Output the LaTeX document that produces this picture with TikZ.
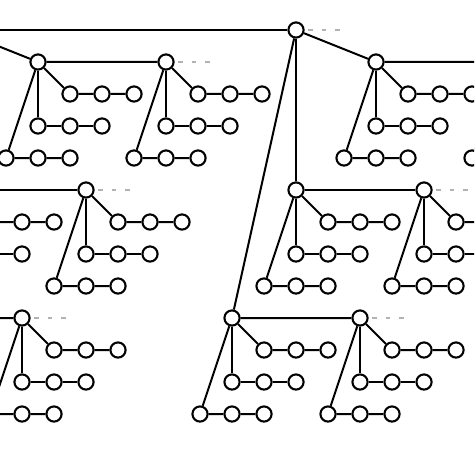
\documentclass[tikz,border=0pt]{standalone}
\usetikzlibrary{calc}
\tikzset{
  dot/.style={circle,draw=black,line width=1.55pt,minimum size=11.4pt,inner sep=0pt,fill=white},
  link/.style={draw=black,line width=1.5pt},
  dashline/.style={draw=gray!60,line width=0.8pt,dash pattern=on 3.4pt off 6.7pt,shorten <=2.7pt}
}
\newcommand\hubone[3]{%
  \node[dot] (#1) at (#2,#3) {};
  \foreach \c/\dx/\dy in {a/32/32,b/0/64,c/-32/96}{
    \node[dot] (#1\c1) at ($(#1)+(\dx,\dy)$) {};
    \node[dot] (#1\c2) at ($(#1\c1)+(32,0)$) {};
    \node[dot] (#1\c3) at ($(#1\c2)+(32,0)$) {};
    \draw[link] (#1) -- (#1\c1) -- (#1\c2) -- (#1\c3);
  }%
}
\newcommand\tailto[2]{%
  \coordinate (#2) at ($(#1)+(44,0)$);
  \draw[dashline] (#1) -- (#2);
}
\begin{document}
\begin{tikzpicture}[x=0.75pt,y=-0.75pt]
\useasboundingbox (0,0) rectangle (474,474);
\clip (0,0) rectangle (474,474);
% level-2 hubs
\node[dot] (P) at (-42,30) {};
\node[dot] (Q) at (296,30) {};
% level-1 hubs with their chains
\hubone{PA1}{38}{62}
\hubone{PA2}{166}{62}
\hubone{PB1}{-42}{190}
\hubone{PB2}{86}{190}
\hubone{PC1}{-106}{318}
\hubone{PC2}{22}{318}
\hubone{QA1}{376}{62}
\hubone{QA2}{504}{62}
\hubone{QB1}{296}{190}
\hubone{QB2}{424}{190}
\hubone{QC1}{232}{318}
\hubone{QC2}{360}{318}
% higher-level links
\draw[link] (P) -- (Q);
\draw[link] (P) -- (PA1) -- (PA2);
\draw[link] (P) -- (PB1) -- (PB2);
\draw[link] (P) -- (PC1) -- (PC2);
\draw[link] (Q) -- (QA1) -- (QA2);
\draw[link] (Q) -- (QB1) -- (QB2);
\draw[link] (Q) -- (QC1) -- (QC2);
% dashed continuations
\tailto{PA2}{tPA}
\tailto{PB2}{tPB}
\tailto{PC2}{tPC}
\tailto{QA2}{tQA}
\tailto{QB2}{tQB}
\tailto{QC2}{tQC}
\tailto{Q}{tQ}
\end{tikzpicture}
\end{document}
